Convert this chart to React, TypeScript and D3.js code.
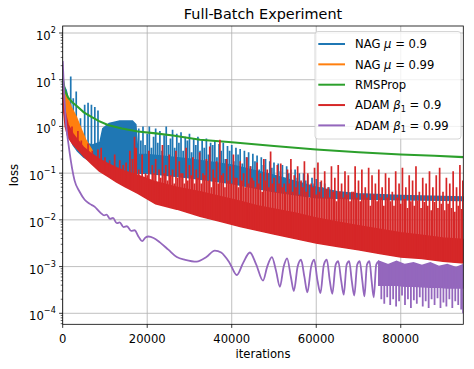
import React from "react";
import * as d3 from "d3";

type P = [number, number];
type B = [number, number, number];

// values: [iteration, loss] or [iteration, low, high]
const xTicks = [0, 20000, 40000, 60000, 80000];
const yDecades = [-4, -3, -2, -1, 0, 1, 2];

const seriesNames = ["NAG", "NAG", "RMSProp", "ADAM", "ADAM"];
const seriesSymbols = ["μ", "μ", "", "β", "β"];
const seriesParams = ["0.9", "0.99", "", "0.9", "0.99"];
const colors = ["#1f77b4", "#ff7f0e", "#2ca02c", "#d62728", "#9467bd"];

const rmsprop: P[] = [
  [0, 11], [500, 6], [1250, 4.2], [2400, 3.2], [3600, 2.6], [5000, 2.0], [6800, 1.6], [8600, 1.3],
  [10700, 1.07], [14000, 0.9], [17800, 0.78], [22000, 0.71], [26100, 0.64], [32500, 0.52],
  [40000, 0.46], [50000, 0.38], [60000, 0.32], [70000, 0.28], [80000, 0.25], [88000, 0.235], [94800, 0.22],
];

const nag09Band: B[] = [
  [0, 3, 8], [800, 1.5, 6], [1600, 0.6, 3], [2500, 0.4, 1.5], [3500, 0.3, 0.8], [5000, 0.22, 0.45],
  [7000, 0.17, 0.4], [8800, 0.14, 0.45], [9500, 0.13, 0.9], [11000, 0.12, 1.15], [13500, 0.11, 1.3],
  [16500, 0.1, 1.3], [17300, 0.1, 1.1], [17800, 0.1, 0.25], [20000, 0.1, 0.25], [30000, 0.08, 0.2],
  [40000, 0.06, 0.15], [50000, 0.04, 0.09], [60000, 0.03, 0.05], [65000, 0.029, 0.04],
  [70000, 0.028, 0.036], [80000, 0.027, 0.033], [94800, 0.026, 0.031],
];

const nag09Spikes: P[] = [
  [1900, 11.7], [2500, 4], [3200, 5.6], [4200, 1.5], [5200, 2.9], [6000, 3.2], [6800, 2.9], [7600, 2.6],
  [8350, 2.2],
  [18000, 0.9], [18500, 0.5], [19000, 1.0], [19500, 0.4], [20000, 0.7], [20500, 1.0], [21000, 0.35],
  [21500, 0.6], [22000, 0.9], [22500, 0.45], [23000, 0.8], [23500, 0.3], [24000, 0.65], [24500, 1.0],
  [25000, 0.4], [25500, 0.55], [26000, 0.85], [26500, 0.35], [27000, 0.7], [27500, 0.45], [28000, 0.75],
  [28500, 0.3], [29000, 0.6], [29500, 0.5], [30000, 0.7], [30500, 0.28], [31000, 0.55], [31500, 0.4],
  [32000, 0.6], [32500, 0.3], [33000, 0.5], [33500, 0.35], [34000, 0.55], [34500, 0.25], [35000, 0.45],
  [35500, 0.4], [36000, 0.5], [36500, 0.22], [37000, 0.42], [37500, 0.3], [38000, 0.45], [38500, 0.2],
  [39000, 0.38], [39500, 0.3], [40000, 0.4], [40500, 0.18], [41000, 0.35], [41500, 0.25], [42000, 0.33],
  [42500, 0.16], [43000, 0.3], [43500, 0.22], [44000, 0.28], [44500, 0.14], [45000, 0.26], [45500, 0.18],
  [46000, 0.24], [46500, 0.12], [47000, 0.22], [47500, 0.15], [48000, 0.2], [48500, 0.1], [49000, 0.18],
  [49500, 0.13], [50000, 0.17], [50500, 0.09], [51000, 0.16], [51500, 0.11], [52000, 0.15], [52500, 0.08],
  [53000, 0.14], [53500, 0.1], [54000, 0.12], [54500, 0.07], [55000, 0.12], [55500, 0.08], [56000, 0.1],
  [56500, 0.06], [57000, 0.1], [57500, 0.07], [58000, 0.09], [58500, 0.055], [59000, 0.08], [59500, 0.06],
  [60000, 0.075], [60500, 0.05], [61000, 0.065], [61500, 0.05], [62000, 0.06], [62500, 0.045], [63000, 0.05],
];

const nag099Band: B[] = [
  [0, 3, 7], [700, 1.4, 5], [2000, 0.6, 2.6], [3200, 0.35, 1.6], [4100, 0.3, 1.0], [5500, 0.22, 0.5],
  [7000, 0.17, 0.3],
];

const adam09Band: B[] = [
  [0, 3.7, 6], [600, 1.0, 2.0], [1250, 0.6, 1.1], [2400, 0.42, 0.7], [3600, 0.32, 0.5], [5000, 0.23, 0.35],
  [6800, 0.16, 0.26], [8700, 0.11, 0.2], [10700, 0.085, 0.16], [12700, 0.065, 0.13], [14700, 0.052, 0.11],
  [17800, 0.037, 0.09], [22000, 0.022, 0.065], [27000, 0.017, 0.05], [32500, 0.012, 0.04],
  [37000, 0.0095, 0.032], [42000, 0.0072, 0.025], [46000, 0.006, 0.02], [50000, 0.005, 0.017],
  [55000, 0.004, 0.014], [60000, 0.0032, 0.011], [65000, 0.0027, 0.009], [70000, 0.0023, 0.0075],
  [75000, 0.0019, 0.0063], [80000, 0.0016, 0.0053], [85000, 0.0015, 0.0047], [90000, 0.0013, 0.0041],
  [94800, 0.0012, 0.0038],
];

const adam09Spikes: P[] = [
  [2200, 1.0], [3600, 0.8], [4400, 0.5], [6000, 0.43], [7000, 0.3], [8350, 0.32], [9100, 0.35], [10000, 0.22],
  [11100, 0.19], [12300, 0.25], [13500, 0.19], [14300, 0.15], [15000, 0.17], [15900, 0.3], [16500, 0.2],
  [17000, 0.6], [17400, 0.35],
  [18000, 0.12], [18800, 0.25], [19600, 0.1], [20400, 0.3], [21200, 0.15], [22000, 0.2], [22800, 0.12],
  [23600, 0.4], [24400, 0.15], [25200, 0.25], [26000, 0.12], [26800, 0.3], [27600, 0.18], [28400, 0.1],
  [29200, 0.35], [30000, 0.15], [30800, 0.22], [31600, 0.12], [32400, 0.28], [33200, 0.1], [34000, 0.2],
  [34800, 0.37], [35600, 0.12], [36400, 0.18], [37200, 0.52], [38000, 0.1], [38800, 0.2], [39600, 0.14],
  [40400, 0.25], [41200, 0.08], [42000, 0.18], [42800, 0.1], [43600, 0.22], [44400, 0.14], [45200, 0.07],
  [46000, 0.17], [46800, 0.1], [47600, 0.2], [48400, 0.12], [49200, 0.29], [50000, 0.08], [50800, 0.15],
  [51600, 0.16], [52400, 0.06], [53200, 0.12], [54000, 0.2], [54800, 0.09], [55600, 0.14], [56400, 0.07],
  [57200, 0.18], [58000, 0.1], [58800, 0.06], [59600, 0.13], [60400, 0.17], [61200, 0.07], [62000, 0.11],
  [62800, 0.05], [63600, 0.14], [64400, 0.08], [65200, 0.15], [66000, 0.06], [66800, 0.11], [67600, 0.09],
  [68400, 0.04], [69200, 0.14], [70000, 0.07], [70800, 0.12], [71600, 0.05], [72400, 0.13], [73200, 0.09],
  [74000, 0.06], [74800, 0.12], [75600, 0.05], [76400, 0.1], [77200, 0.08], [78000, 0.04], [78800, 0.11],
  [79600, 0.06], [80400, 0.13], [81200, 0.05], [82000, 0.09], [82800, 0.07], [83600, 0.14], [84400, 0.04],
  [85200, 0.08], [86000, 0.06], [86800, 0.11], [87600, 0.05], [88400, 0.09], [89200, 0.13], [90000, 0.04],
  [90800, 0.08], [91600, 0.06], [92400, 0.11], [93200, 0.05], [94000, 0.15], [94700, 0.07],
];

// lower spikes between the tall ones
const adam09MidSpikes: P[] = [
  [18400, 0.08], [19200, 0.06], [20000, 0.09], [20800, 0.07], [21600, 0.1], [22400, 0.06], [23200, 0.08],
  [24000, 0.1], [24800, 0.07], [25600, 0.09], [26400, 0.06], [27200, 0.08], [28000, 0.1], [28800, 0.06],
  [29600, 0.07], [30400, 0.09], [31200, 0.06], [32000, 0.08], [32800, 0.06], [33600, 0.09], [34400, 0.07],
  [35200, 0.05], [36000, 0.08], [36800, 0.06], [37600, 0.09], [38400, 0.05], [39200, 0.07], [40000, 0.06],
  [40800, 0.08], [41600, 0.05], [42400, 0.07], [43200, 0.05], [44000, 0.06], [44800, 0.08], [45600, 0.05],
  [46400, 0.06], [47200, 0.04], [48000, 0.07], [48800, 0.05], [49600, 0.06], [50400, 0.04], [51200, 0.06],
  [52000, 0.05], [52800, 0.04], [53600, 0.06], [54400, 0.04], [55200, 0.05], [56000, 0.035], [56800, 0.05],
  [57600, 0.04], [58400, 0.03], [59200, 0.05], [60000, 0.035], [60800, 0.04], [61600, 0.03], [62400, 0.045],
  [63200, 0.03], [64000, 0.04], [64800, 0.025], [65600, 0.04], [66400, 0.03], [67200, 0.035], [68000, 0.025],
  [68800, 0.04], [69600, 0.03], [70400, 0.025], [71200, 0.035], [72000, 0.03], [72800, 0.02], [73600, 0.035],
  [74400, 0.025], [75200, 0.03], [76000, 0.02], [76800, 0.03], [77600, 0.025], [78400, 0.02], [79200, 0.03],
  [80000, 0.022], [80800, 0.028], [81600, 0.018], [82400, 0.025], [83200, 0.02], [84000, 0.026], [84800, 0.018],
  [85600, 0.024], [86400, 0.02], [87200, 0.016], [88000, 0.024], [88800, 0.018], [89600, 0.022], [90400, 0.016],
  [91200, 0.022], [92000, 0.018], [92800, 0.015], [93600, 0.02], [94400, 0.017],
];

const adam099Line: P[] = [
  [0, 25], [400, 4], [850, 1.0], [1250, 0.5], [1650, 0.27], [2200, 0.13], [2800, 0.07], [4000, 0.04],
  [5200, 0.027], [6400, 0.022], [7600, 0.019], [8400, 0.016], [9100, 0.0138], [9800, 0.0125],
  [10400, 0.013], [11200, 0.0105], [11900, 0.011], [12800, 0.0085], [13500, 0.0088], [14400, 0.007],
  [15200, 0.0073], [16200, 0.0058], [17000, 0.006], [18000, 0.0043], [18800, 0.0035], [19600, 0.0042],
  [20300, 0.0044], [21500, 0.0041], [23000, 0.0033], [25000, 0.0023], [27000, 0.0016], [29000, 0.0014],
  [31700, 0.00128], [34000, 0.0016], [36000, 0.0022], [37500, 0.002], [39500, 0.0012], [41200, 0.00066],
  [42700, 0.0012], [44300, 0.002], [45800, 0.0011], [47400, 0.0005], [48400, 0.001], [49500, 0.0016],
  [50500, 0.0008], [51400, 0.00037], [52300, 0.001], [53100, 0.0015], [54000, 0.0006], [54700, 0.0003],
  [55600, 0.001], [56400, 0.0014], [57200, 0.0006], [57900, 0.00028], [58800, 0.001], [59500, 0.0014],
  [60300, 0.0005], [61000, 0.00027], [61800, 0.0011], [62500, 0.0014], [63200, 0.0005], [63800, 0.00026],
  [64600, 0.0011], [65200, 0.0013], [65900, 0.0005], [66500, 0.00025], [67200, 0.0011], [67800, 0.0013],
  [68400, 0.0005], [69000, 0.00024], [69700, 0.0011], [70300, 0.0013], [70900, 0.0005], [71400, 0.00023],
  [72000, 0.0011], [72600, 0.0013], [73100, 0.0005], [73600, 0.00022], [74200, 0.0011], [74800, 0.0013],
];

const adam099Band: B[] = [
  [74800, 0.0004, 0.0013], [77000, 0.0004, 0.0011], [79000, 0.0004, 0.0013], [81000, 0.00038, 0.0011],
  [83000, 0.00038, 0.0012], [85000, 0.00037, 0.00105], [87000, 0.00036, 0.0012], [89000, 0.00036, 0.001],
  [91000, 0.00035, 0.0011], [93000, 0.00035, 0.00095], [94800, 0.00035, 0.0011],
];

const adam099Dips: P[] = [
  [75400, 0.0002], [76100, 0.00016], [76800, 0.00022], [77500, 0.00015], [78200, 0.0002], [78900, 0.00014],
  [79600, 0.00018], [80300, 0.00024], [81000, 0.00015], [81700, 0.0002], [82400, 0.00013], [83100, 0.00019],
  [83800, 0.00016], [84500, 0.00022], [85200, 0.00014], [85900, 0.00018], [86600, 0.00013], [87300, 0.0002],
  [88000, 0.00015], [88700, 0.00021], [89400, 0.00013], [90100, 0.00017], [90800, 0.00014], [91500, 0.0002],
  [92200, 0.00013], [92900, 0.00018], [93600, 0.00015], [94300, 0.00012], [94750, 0.0001],
];

const FONT = "DejaVu Sans";

export default function App() {
  const width = 474;
  const height = 369;
  const left = 62.7, right = 463.3, top = 26, bottom = 324.3;

  const x = d3.scaleLinear().domain([0, 94800]).range([left, right]);
  const y = d3.scaleLog().domain([Math.pow(10, -4.2355), Math.pow(10, 2.15)]).range([bottom, top]);

  const line = d3.line<P>().x(d => x(d[0])).y(d => y(d[1]));
  const smooth = d3.line<P>().x(d => x(d[0])).y(d => y(d[1])).curve(d3.curveMonotoneX);
  const band = d3.area<B>().x(d => x(d[0])).y0(d => y(d[1])).y1(d => y(d[2]));
  const aboveLow = d3.area<B>().x(d => x(d[0])).y0(d => y(d[1])).y1(top - 5);
  const belowHigh = d3.area<B>().x(d => x(d[0])).y0(bottom + 5).y1(d => y(d[2]));

  const spikesUp = (pts: P[]) => pts.map(d => `M${x(d[0])},${y(d[1])}V${bottom}`).join("");
  const spikesDown = (pts: P[]) => pts.map(d => `M${x(d[0])},${y(d[1])}V${top}`).join("");

  const minor: number[] = [];
  const [lo, hi] = y.domain();
  for (let e = -5; e <= 2; e++) {
    for (let m = 2; m <= 9; m++) {
      const v = m * Math.pow(10, e);
      if (v > lo && v < hi) minor.push(v);
    }
  }

  const lw = 1.6;

  return (
    <svg width={width} height={height} style={{ position: "absolute", left: 0, top: 0 }} fontFamily={FONT}>
      <defs>
        <clipPath id="plot"><rect x={left} y={top} width={right - left} height={bottom - top} /></clipPath>
        <clipPath id="nagAbove"><path d={aboveLow(nag09Band) || ""} /></clipPath>
        <clipPath id="adamAbove"><path d={aboveLow(adam09Band) || ""} /></clipPath>
        <clipPath id="adam2Below"><path d={belowHigh(adam099Band) || ""} /></clipPath>
      </defs>
      <rect width={width} height={height} fill="#fff" />

      {/* grid */}
      <g stroke="#b0b0b0" strokeWidth={0.8}>
        {xTicks.map(t => <line key={"gx" + t} x1={x(t)} x2={x(t)} y1={top} y2={bottom} />)}
        {yDecades.map(e => <line key={"gy" + e} x1={left} x2={right} y1={y(Math.pow(10, e))} y2={y(Math.pow(10, e))} />)}
      </g>

      <g clipPath="url(#plot)">
        {/* NAG mu=0.9 */}
        <path d={band(nag09Band) || ""} fill={colors[0]} stroke={colors[0]} strokeWidth={lw} />
        <path d={spikesUp(nag09Spikes)} clipPath="url(#nagAbove)" stroke={colors[0]} strokeWidth={1.7} fill="none" />
        {/* NAG mu=0.99 */}
        <path d={band(nag099Band) || ""} fill={colors[1]} stroke={colors[1]} strokeWidth={lw} />
        {/* RMSProp */}
        <path d={line(rmsprop) || ""} fill="none" stroke={colors[2]} strokeWidth={2.1} />
        {/* ADAM beta=0.9 */}
        <path d={band(adam09Band) || ""} fill={colors[3]} stroke={colors[3]} strokeWidth={lw} />
        <path d={spikesUp(adam09Spikes)} clipPath="url(#adamAbove)" stroke={colors[3]} strokeWidth={1.7} fill="none" />
        <path d={spikesUp(adam09MidSpikes)} clipPath="url(#adamAbove)" stroke={colors[3]} strokeWidth={1.7} fill="none" />
        {/* ADAM beta=0.99 */}
        <path d={smooth(adam099Line) || ""} fill="none" stroke={colors[4]} strokeWidth={1.8} />
        <path d={band(adam099Band) || ""} fill={colors[4]} stroke={colors[4]} strokeWidth={lw} />
        <path d={spikesDown(adam099Dips)} clipPath="url(#adam2Below)" stroke={colors[4]} strokeWidth={1.8} fill="none" />
      </g>

      {/* spines */}
      <rect x={left} y={top} width={right - left} height={bottom - top} fill="none" stroke="#000" strokeWidth={0.8} />

      {/* x axis */}
      <g fontSize={11.6} textAnchor="middle" fill="#000">
        {xTicks.map(t => (
          <g key={"xt" + t}>
            <line x1={x(t)} x2={x(t)} y1={bottom} y2={bottom + 3.6} stroke="#000" strokeWidth={0.8} />
            <text x={x(t)} y={342.7}>{t}</text>
          </g>
        ))}
        <text x={(left + right) / 2} y={357.5}>iterations</text>
      </g>

      {/* y axis */}
      <g fontSize={11.6} fill="#000">
        {minor.map((v, i) => (
          <line key={"ym" + i} x1={left - 2} x2={left} y1={y(v)} y2={y(v)} stroke="#000" strokeWidth={0.6} />
        ))}
        {yDecades.map(e => {
          const yy = y(Math.pow(10, e));
          return (
            <g key={"yt" + e}>
              <line x1={left - 3.6} x2={left} y1={yy} y2={yy} stroke="#000" strokeWidth={0.8} />
              <text x={55.8} y={yy + 7} textAnchor="end">
                <tspan>10</tspan>
                <tspan dy={-7} fontSize={8.1}>{e < 0 ? "\u2212" + Math.abs(e) : String(e)}</tspan>
              </text>
            </g>
          );
        })}
        <text transform={`translate(18.3,${(top + bottom) / 2}) rotate(-90)`} textAnchor="middle">loss</text>
      </g>

      {/* title */}
      <text x={(left + right) / 2} y={19.3} textAnchor="middle" fontSize={14.4}>Full-Batch Experiment</text>

      {/* legend */}
      <rect x={315} y={31.5} width={146} height={107.5} rx={3} fill="#fff" fillOpacity={0.8} stroke="#cccccc" strokeWidth={0.8} />
      {colors.map((c, i) => {
        const cy = 44 + i * 20.35;
        const sym = seriesSymbols[i];
        return (
          <g key={"lg" + i}>
            <line x1={318.3} x2={345} y1={cy} y2={cy} stroke={c} strokeWidth={2} />
            <text x={355} y={cy + 4.2} fontSize={11.6}>
              <tspan>{seriesNames[i] + (sym ? " " : "")}</tspan>
              {sym && <tspan fontStyle="italic">{sym}</tspan>}
              {sym === "β" && <tspan fontSize={8.1} dy={2.6}>1</tspan>}
              {sym && <tspan dy={sym === "β" ? -2.6 : 0}>{" = " + seriesParams[i]}</tspan>}
            </text>
          </g>
        );
      })}
    </svg>
  );
}
